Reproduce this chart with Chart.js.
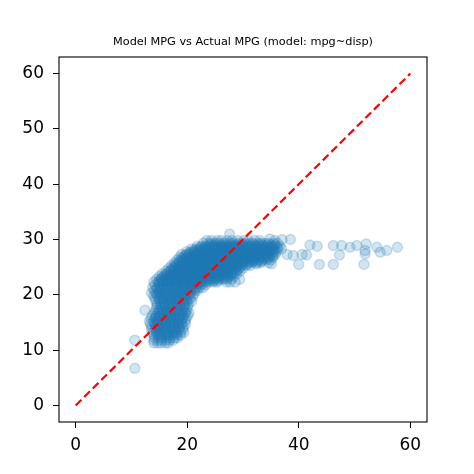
<!DOCTYPE html>
<html lang="en">
  <head>
    <meta charset="UTF-8" />
    <title>Model MPG vs Actual MPG</title>
    <script src="https://cdn.jsdelivr.net/npm/chart.js"></script>
    <style>
      html,
      body {
        margin: 0;
        padding: 0;
        background: white;
      }
      .chart-box {
        width: 474px;
        height: 474px;
      }
    </style>
  </head>
  <body>
    <div class="chart-box"><canvas id="mpgChart"></canvas></div>
    <script>
      const titleText = "Model MPG vs Actual MPG (model: mpg~disp)";

      // predicted mpg levels (y) and the actual mpg values (x) read on each level
      const predLevels = [
        31.0, 29.8, 29.3, 29.05, 28.8, 28.55, 28.3, 28.05, 27.8, 27.55, 27.3,
        27.05, 26.8, 26.55, 26.3, 26.05, 25.8, 25.55, 25.3, 25.05, 24.8, 24.55,
        24.3, 24.05, 23.8, 23.55, 23.3, 23.05, 22.8, 22.55, 22.3, 22.05, 21.8,
        21.3, 21.05, 20.8, 20.3, 20.05, 19.8, 19.3, 19.05, 18.8, 18.3, 18.05,
        17.8, 17.2, 16.95, 16.7, 16.2, 15.95, 15.7, 15.2, 14.95, 14.7, 14.2,
        13.95, 13.7, 13.2, 12.95, 12.7, 12.2, 11.8, 11.3, 6.7,
      ];
      const actualByLevel = [
        [27.6],
        [23.5, 24.3, 25.4, 26.1, 27.2, 28.0, 29.1, 30.2, 31.0, 32.1, 33.0, 35.7],
        [22.9, 23.7, 24.3, 25.1, 25.6, 26.4, 27.0, 27.8, 28.3, 29.1, 29.8, 30.4, 31.2, 31.8, 32.7, 33.2, 34.0, 34.6, 35.5, 36.2],
        [24.0, 24.7, 25.3, 26.0, 26.8, 27.4, 28.0, 28.7, 29.4, 30.1, 30.8, 31.5, 32.1, 32.9, 33.5, 34.3, 35.0, 35.8],
        [21.8, 22.6, 23.3, 23.9, 24.7, 25.3, 26.1, 26.6, 27.4, 28.2, 28.7, 29.5, 30.1, 30.9, 31.4, 32.3, 32.9, 33.6, 34.3, 35.1, 35.7, 36.6],
        [22.3, 23.0, 23.6, 24.4, 25.0, 25.7, 26.4, 27.1, 27.8, 28.5, 29.1, 29.9, 30.5, 31.2, 31.9, 32.6, 33.2, 34.0, 34.7, 35.4, 36.2],
        [20.8, 21.6, 22.2, 22.9, 23.5, 24.3, 24.9, 25.7, 26.3, 27.1, 27.6, 28.4, 29.2, 29.7, 30.6, 31.2, 32.0, 32.5, 33.4, 34.0, 34.7, 35.4, 36.2, 36.9],
        [21.2, 21.9, 22.6, 23.2, 23.9, 24.6, 25.3, 26.0, 26.7, 27.3, 28.0, 28.8, 29.4, 30.1, 30.8, 31.5, 32.2, 32.9, 33.6, 34.3, 35.0, 35.7],
        [19.9, 20.7, 21.3, 22.1, 22.7, 23.5, 24.0, 24.9, 25.5, 26.2, 26.9, 27.6, 28.2, 29.0, 29.6, 30.4, 31.0, 31.8, 32.4, 33.1, 33.8, 34.6, 35.2, 36.0],
        [20.3, 21.0, 21.7, 22.4, 23.1, 23.8, 24.5, 25.2, 25.8, 26.6, 27.2, 27.9, 28.6, 29.3, 30.0, 30.7, 31.3, 32.1, 32.7, 33.5, 34.1, 34.9, 35.5],
        [19.0, 19.8, 20.4, 21.2, 21.8, 22.5, 23.2, 24.0, 24.5, 25.3, 26.0, 26.7, 27.3, 28.1, 28.7, 29.4, 30.1, 30.8, 31.5, 32.2, 32.8, 33.7, 34.3, 35.1, 35.8],
        [19.5, 20.1, 20.8, 21.5, 22.2, 22.9, 23.6, 24.3, 24.9, 25.7, 26.3, 27.0, 27.7, 28.4, 29.0, 29.8, 30.4, 31.2, 31.8, 32.5, 33.2, 34.0, 34.6, 35.4],
        [18.6, 19.4, 20.0, 20.8, 21.4, 22.2, 22.8, 23.6, 24.2, 24.9, 25.6, 26.4, 27.0, 27.7, 28.4, 29.1, 29.7, 30.5, 31.1, 32.0, 32.5, 33.3, 34.0, 34.8, 35.4],
        [19.0, 19.7, 20.4, 21.1, 21.7, 22.5, 23.1, 23.9, 24.5, 25.3, 25.9, 26.7, 27.3, 28.0, 28.8, 29.4, 30.2, 30.8, 31.6, 32.2, 33.0, 33.7, 34.4],
        [18.2, 19.0, 19.6, 20.4, 21.0, 21.7, 22.4, 23.2, 23.7, 24.6, 25.1, 26.0, 26.5, 27.3, 27.9, 28.7, 29.3, 30.1, 30.6, 31.5, 32.0, 32.9, 33.5, 34.3, 35.0],
        [18.6, 19.3, 20.0, 20.7, 21.4, 22.0, 22.8, 23.4, 24.2, 24.8, 25.6, 26.2, 27.0, 27.6, 28.4, 29.0, 29.8, 30.4, 31.2, 31.8, 32.6, 33.3],
        [17.7, 18.5, 19.1, 19.9, 20.5, 21.3, 21.9, 22.7, 23.3, 24.1, 24.7, 25.5, 26.1, 26.9, 27.5, 28.2, 28.9, 29.6, 30.3, 31.1, 31.6, 32.5, 33.2, 34.6],
        [18.0, 18.8, 19.4, 20.2, 20.8, 21.6, 22.3, 23.0, 23.6, 24.4, 25.0, 25.8, 26.4, 27.2, 27.8, 28.5, 29.3, 29.9, 30.7],
        [17.2, 18.0, 18.6, 19.4, 20.0, 20.8, 21.3, 22.2, 22.8, 23.5, 24.2, 25.0, 25.5, 26.4, 27.0, 27.8, 28.4, 29.1, 29.8, 30.6, 31.3],
        [17.6, 18.3, 19.0, 19.7, 20.4, 21.1, 21.8, 22.5, 23.2, 23.9, 24.6, 25.3, 26.0, 26.7, 27.4, 28.1, 28.8, 29.5],
        [16.7, 17.5, 18.1, 18.9, 19.5, 20.3, 20.9, 21.7, 22.3, 23.1, 23.6, 24.5, 25.0, 25.9, 26.5, 27.2, 27.9, 28.7, 29.3, 30.0],
        [17.1, 17.8, 18.5, 19.2, 19.9, 20.6, 21.3, 22.0, 22.7, 23.4, 24.1, 24.8, 25.5, 26.2, 26.9, 27.6, 28.3, 29.0],
        [16.2, 17.0, 17.6, 18.4, 19.0, 19.7, 20.4, 21.2, 21.7, 22.6, 23.2, 23.9, 24.6, 25.4, 25.9, 26.8, 27.4, 28.1, 28.8, 29.5],
        [16.6, 17.3, 18.0, 18.7, 19.4, 20.1, 20.8, 21.5, 22.2, 22.9, 23.6, 24.3, 25.0, 25.7, 26.4, 27.1, 27.8, 28.5],
        [15.5, 16.3, 16.9, 17.7, 18.3, 19.1, 19.7, 20.4, 21.1, 21.9, 22.4, 23.3, 23.9, 24.6, 25.3, 26.1, 26.6, 27.5, 28.1, 28.9],
        [16.0, 16.7, 17.4, 18.1, 18.8, 19.5, 20.2, 20.9, 21.6, 22.3, 23.0, 23.7, 24.4, 25.1, 25.8, 26.5, 27.2, 27.9],
        [15.0, 15.8, 16.4, 17.2, 17.8, 18.6, 19.2, 20.0, 20.6, 21.4, 21.9, 22.8, 23.4, 24.1, 24.8, 25.6, 26.1, 27.0, 27.6, 28.4],
        [15.4, 16.1, 16.8, 17.5, 18.2, 18.9, 19.6, 20.3, 21.0, 21.7, 22.4, 23.1, 23.8, 24.5, 25.2, 25.9, 26.6, 27.3],
        [14.5, 15.3, 15.9, 16.7, 17.3, 18.1, 18.7, 19.5, 20.1, 20.9, 21.5, 22.3, 22.8, 23.7, 24.3, 25.0, 25.7, 26.5, 27.0, 27.9, 29.4],
        [15.0, 15.7, 16.4, 17.1, 17.8, 18.5, 19.2, 19.9, 20.6, 21.3, 22.0, 22.7, 23.4, 24.1, 24.8, 25.5],
        [14.0, 14.8, 15.4, 16.2, 16.8, 17.6, 18.2, 19.0, 19.6, 20.4, 21.0, 21.8, 22.4, 23.2, 23.8, 24.6, 25.3, 27.0, 27.7, 28.6],
        [14.9, 15.6, 16.3, 17.0, 17.7, 18.4, 19.1, 19.8, 20.5, 21.2, 21.9, 22.6],
        [14.2, 15.0, 15.6, 16.4, 17.0, 17.8, 18.4, 19.2, 19.8, 20.6, 21.2, 22.0, 22.6, 23.3],
        [13.8, 14.6, 15.2, 16.0, 16.6, 17.4, 18.0, 18.8, 19.4, 20.2, 20.8, 21.6, 22.2, 22.8],
        [14.5, 15.2, 15.9, 16.6, 17.3, 18.0, 18.7, 19.4, 20.1, 20.8, 21.5],
        [14.1, 14.9, 15.5, 16.3, 16.9, 17.7, 18.3, 19.1, 19.7, 20.5, 21.1, 21.8],
        [13.6, 14.4, 15.0, 15.8, 16.4, 17.2, 17.8, 18.6, 19.2, 20.0, 20.6, 21.3],
        [14.6, 15.3, 16.0, 16.7, 17.4, 18.1, 18.8, 19.5, 20.2],
        [14.0, 14.8, 15.4, 16.2, 16.8, 17.6, 18.2, 19.0, 19.6, 20.4, 21.0],
        [14.2, 15.0, 15.6, 16.4, 17.0, 17.8, 18.4, 19.2, 19.8, 20.6],
        [15.0, 15.7, 16.4, 17.1, 17.8, 18.5, 19.2, 19.9],
        [14.4, 15.2, 15.8, 16.6, 17.2, 18.0, 18.6, 19.4, 20.0, 20.8],
        [14.6, 15.4, 16.0, 16.8, 17.4, 18.2, 18.8, 19.6, 20.2],
        [15.2, 15.9, 16.6, 17.3, 18.0, 18.7, 19.4],
        [14.5, 15.3, 15.9, 16.7, 17.3, 18.1, 18.7, 19.5, 20.1],
        [12.4, 14.3, 15.1, 15.7, 16.5, 17.1, 17.9, 18.5, 19.3, 19.9],
        [14.8, 15.5, 16.2, 16.9, 17.6, 18.3, 19.0, 19.6],
        [14.1, 14.9, 15.5, 16.3, 16.9, 17.7, 18.3, 19.1, 19.7, 20.3],
        [13.7, 14.5, 15.1, 15.9, 16.5, 17.3, 17.9, 18.7, 19.3, 20.1],
        [14.3, 15.0, 15.7, 16.4, 17.1, 17.8, 18.5, 19.2],
        [13.5, 14.3, 14.9, 15.7, 16.3, 17.1, 17.7, 18.5, 19.1, 19.8],
        [13.2, 14.0, 14.6, 15.4, 16.0, 16.8, 17.4, 18.2, 18.8, 19.6],
        [14.1, 14.8, 15.5, 16.2, 16.9, 17.6, 18.3, 19.0],
        [13.4, 14.2, 14.8, 15.6, 16.2, 17.0, 17.6, 18.4, 19.0, 19.7],
        [13.6, 14.4, 15.0, 15.8, 16.4, 17.2, 17.8, 18.6, 19.3],
        [14.2, 14.9, 15.6, 16.3, 17.0, 17.7, 18.4],
        [13.6, 14.4, 15.0, 15.8, 16.4, 17.2, 17.8, 18.6, 19.2],
        [13.8, 14.6, 15.2, 16.0, 16.6, 17.4, 18.0, 18.8, 19.4],
        [14.5, 15.2, 15.9, 16.6, 17.3, 18.0],
        [14.0, 14.8, 15.4, 16.2, 16.8, 17.6, 18.2, 18.8],
        [14.1, 14.9, 15.5, 16.3, 16.9, 17.7, 18.2],
        [10.6, 14.0, 14.8, 15.4, 16.2, 16.8, 17.5],
        [14.0, 14.7, 15.3, 16.1, 16.6],
        [10.6],
      ];

      // the sparse cars to the right of the main band
      const tailActual = [
        34.8, 37.0, 38.5, 42.0, 43.3, 46.2, 47.7, 49.2, 50.4, 52.1, 51.9, 54.0,
        55.8, 57.7, 54.6, 37.9, 39.0, 40.6, 41.4, 47.3, 51.9, 32.4, 35.1, 40.0,
        43.7, 46.2, 51.7,
      ];
      const tailPred = [
        30.1, 30.0, 30.0, 29.0, 28.8, 28.9, 28.9, 28.6, 28.9, 29.2, 28.0, 28.6,
        28.0, 28.6, 27.7, 27.3, 27.1, 27.3, 27.2, 27.2, 27.4, 25.6, 25.6, 25.5,
        25.5, 25.5, 25.5,
      ];

      // y = x reference line
      const lineX = [0, 60];
      const lineY = [0, 60];

      const xTicks = [0, 20, 40, 60];
      const yTicks = [0, 10, 20, 30, 40, 50, 60];

      const points = [];
      predLevels.forEach((y, i) => {
        actualByLevel[i].forEach((x) => points.push({ x: x, y: y }));
      });
      tailActual.forEach((x, i) => points.push({ x: x, y: tailPred[i] }));

      const linePoints = lineX.map((x, i) => ({ x: x, y: lineY[i] }));

      const frameAndTitle = {
        id: "frameAndTitle",
        afterDraw(chart) {
          const { ctx, chartArea } = chart;
          ctx.save();
          ctx.strokeStyle = "#000";
          ctx.lineWidth = 1.1;
          ctx.strokeRect(
            chartArea.left,
            chartArea.top,
            chartArea.right - chartArea.left,
            chartArea.bottom - chartArea.top
          );
          ctx.fillStyle = "#000";
          ctx.font = '11.3px "DejaVu Sans"';
          ctx.textAlign = "center";
          ctx.textBaseline = "middle";
          ctx.fillText(titleText, (chartArea.left + chartArea.right) / 2, 42);
          ctx.restore();
        },
      };

      const tickFont = { family: "DejaVu Sans", size: 17 };

      new Chart(document.getElementById("mpgChart"), {
        type: "scatter",
        data: {
          datasets: [
            {
              data: linePoints,
              showLine: true,
              borderColor: "red",
              borderWidth: 2.2,
              borderDash: [8, 4],
              pointRadius: 0,
              order: 0,
            },
            {
              data: points,
              backgroundColor: "rgba(31, 119, 180, 0.2)",
              borderColor: "rgba(31, 119, 180, 0.2)",
              borderWidth: 1.5,
              pointRadius: 5,
              order: 1,
            },
          ],
        },
        options: {
          responsive: true,
          maintainAspectRatio: false,
          animation: false,
          layout: { padding: { left: 0, right: 47, top: 57, bottom: 0 } },
          plugins: {
            legend: { display: false },
            tooltip: { enabled: false },
            title: { display: false },
          },
          scales: {
            x: {
              type: "linear",
              min: -3,
              max: 63,
              afterBuildTicks: (s) => {
                s.ticks = xTicks.map((v) => ({ value: v }));
              },
              afterFit: (s) => {
                s.height = 52;
              },
              grid: {
                drawOnChartArea: false,
                tickLength: 6,
                tickColor: "#000",
              },
              border: { display: false },
              ticks: { color: "#000", font: tickFont, padding: 7, maxRotation: 0 },
            },
            y: {
              type: "linear",
              min: -3,
              max: 63,
              afterBuildTicks: (s) => {
                s.ticks = yTicks.map((v) => ({ value: v }));
              },
              afterFit: (s) => {
                s.width = 59;
              },
              grid: {
                drawOnChartArea: false,
                tickLength: 6,
                tickColor: "#000",
              },
              border: { display: false },
              ticks: { color: "#000", font: tickFont, padding: 9 },
            },
          },
        },
        plugins: [frameAndTitle],
      });
    </script>
  </body>
</html>
